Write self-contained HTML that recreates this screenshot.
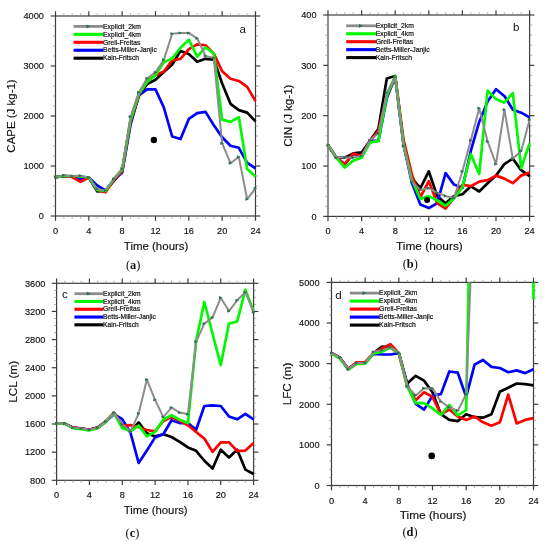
<!DOCTYPE html>
<html><head><meta charset="utf-8"><title>Figure</title><style>
html,body{margin:0;padding:0;background:#fff;}
body{width:550px;height:542px;overflow:hidden;}
svg{display:block;will-change:transform;}
text{font-family:"Liberation Sans",sans-serif;fill:#111;}
.tl{font-size:9.2px;stroke:#111;stroke-width:0.15px;}
.at{font-size:11.25px;stroke:#111;stroke-width:0.15px;}
.lg{font-size:7.9px;stroke:#111;stroke-width:0.22px;}
.lt{fill:#111;}
.cap{font-family:"Liberation Serif",serif;font-size:12.4px;}
</style></head><body>
<svg width="550" height="542" viewBox="0 0 550 542">
<rect width="550" height="542" fill="#fff"/>
<defs><clipPath id="clipa"><rect x="53.9" y="16" width="203.2" height="200"/></clipPath><clipPath id="clipb"><rect x="326.4" y="15" width="204.8" height="201.4"/></clipPath><clipPath id="clipc"><rect x="55" y="283.3" width="200.2" height="197"/></clipPath><clipPath id="clipd"><rect x="329.9" y="282.4" width="205.2" height="203.1"/></clipPath></defs>
<rect x="55.5" y="16" width="200" height="200" fill="none" stroke="#3c3c3c" stroke-width="1.2"/>
<line x1="55.5" y1="216" x2="55.5" y2="220.8" stroke="#3c3c3c" stroke-width="1.2"/>
<line x1="55.5" y1="16" x2="55.5" y2="11.2" stroke="#3c3c3c" stroke-width="1.2"/>
<line x1="63.83" y1="216" x2="63.83" y2="218.6" stroke="#8a8a8a" stroke-width="0.7"/>
<line x1="63.83" y1="16" x2="63.83" y2="13.4" stroke="#8a8a8a" stroke-width="0.7"/>
<line x1="72.17" y1="216" x2="72.17" y2="218.6" stroke="#8a8a8a" stroke-width="0.7"/>
<line x1="72.17" y1="16" x2="72.17" y2="13.4" stroke="#8a8a8a" stroke-width="0.7"/>
<line x1="80.5" y1="216" x2="80.5" y2="218.6" stroke="#8a8a8a" stroke-width="0.7"/>
<line x1="80.5" y1="16" x2="80.5" y2="13.4" stroke="#8a8a8a" stroke-width="0.7"/>
<line x1="88.83" y1="216" x2="88.83" y2="220.8" stroke="#3c3c3c" stroke-width="1.2"/>
<line x1="88.83" y1="16" x2="88.83" y2="11.2" stroke="#3c3c3c" stroke-width="1.2"/>
<line x1="97.17" y1="216" x2="97.17" y2="218.6" stroke="#8a8a8a" stroke-width="0.7"/>
<line x1="97.17" y1="16" x2="97.17" y2="13.4" stroke="#8a8a8a" stroke-width="0.7"/>
<line x1="105.5" y1="216" x2="105.5" y2="218.6" stroke="#8a8a8a" stroke-width="0.7"/>
<line x1="105.5" y1="16" x2="105.5" y2="13.4" stroke="#8a8a8a" stroke-width="0.7"/>
<line x1="113.83" y1="216" x2="113.83" y2="218.6" stroke="#8a8a8a" stroke-width="0.7"/>
<line x1="113.83" y1="16" x2="113.83" y2="13.4" stroke="#8a8a8a" stroke-width="0.7"/>
<line x1="122.17" y1="216" x2="122.17" y2="220.8" stroke="#3c3c3c" stroke-width="1.2"/>
<line x1="122.17" y1="16" x2="122.17" y2="11.2" stroke="#3c3c3c" stroke-width="1.2"/>
<line x1="130.5" y1="216" x2="130.5" y2="218.6" stroke="#8a8a8a" stroke-width="0.7"/>
<line x1="130.5" y1="16" x2="130.5" y2="13.4" stroke="#8a8a8a" stroke-width="0.7"/>
<line x1="138.83" y1="216" x2="138.83" y2="218.6" stroke="#8a8a8a" stroke-width="0.7"/>
<line x1="138.83" y1="16" x2="138.83" y2="13.4" stroke="#8a8a8a" stroke-width="0.7"/>
<line x1="147.17" y1="216" x2="147.17" y2="218.6" stroke="#8a8a8a" stroke-width="0.7"/>
<line x1="147.17" y1="16" x2="147.17" y2="13.4" stroke="#8a8a8a" stroke-width="0.7"/>
<line x1="155.5" y1="216" x2="155.5" y2="220.8" stroke="#3c3c3c" stroke-width="1.2"/>
<line x1="155.5" y1="16" x2="155.5" y2="11.2" stroke="#3c3c3c" stroke-width="1.2"/>
<line x1="163.83" y1="216" x2="163.83" y2="218.6" stroke="#8a8a8a" stroke-width="0.7"/>
<line x1="163.83" y1="16" x2="163.83" y2="13.4" stroke="#8a8a8a" stroke-width="0.7"/>
<line x1="172.17" y1="216" x2="172.17" y2="218.6" stroke="#8a8a8a" stroke-width="0.7"/>
<line x1="172.17" y1="16" x2="172.17" y2="13.4" stroke="#8a8a8a" stroke-width="0.7"/>
<line x1="180.5" y1="216" x2="180.5" y2="218.6" stroke="#8a8a8a" stroke-width="0.7"/>
<line x1="180.5" y1="16" x2="180.5" y2="13.4" stroke="#8a8a8a" stroke-width="0.7"/>
<line x1="188.83" y1="216" x2="188.83" y2="220.8" stroke="#3c3c3c" stroke-width="1.2"/>
<line x1="188.83" y1="16" x2="188.83" y2="11.2" stroke="#3c3c3c" stroke-width="1.2"/>
<line x1="197.17" y1="216" x2="197.17" y2="218.6" stroke="#8a8a8a" stroke-width="0.7"/>
<line x1="197.17" y1="16" x2="197.17" y2="13.4" stroke="#8a8a8a" stroke-width="0.7"/>
<line x1="205.5" y1="216" x2="205.5" y2="218.6" stroke="#8a8a8a" stroke-width="0.7"/>
<line x1="205.5" y1="16" x2="205.5" y2="13.4" stroke="#8a8a8a" stroke-width="0.7"/>
<line x1="213.83" y1="216" x2="213.83" y2="218.6" stroke="#8a8a8a" stroke-width="0.7"/>
<line x1="213.83" y1="16" x2="213.83" y2="13.4" stroke="#8a8a8a" stroke-width="0.7"/>
<line x1="222.17" y1="216" x2="222.17" y2="220.8" stroke="#3c3c3c" stroke-width="1.2"/>
<line x1="222.17" y1="16" x2="222.17" y2="11.2" stroke="#3c3c3c" stroke-width="1.2"/>
<line x1="230.5" y1="216" x2="230.5" y2="218.6" stroke="#8a8a8a" stroke-width="0.7"/>
<line x1="230.5" y1="16" x2="230.5" y2="13.4" stroke="#8a8a8a" stroke-width="0.7"/>
<line x1="238.83" y1="216" x2="238.83" y2="218.6" stroke="#8a8a8a" stroke-width="0.7"/>
<line x1="238.83" y1="16" x2="238.83" y2="13.4" stroke="#8a8a8a" stroke-width="0.7"/>
<line x1="247.17" y1="216" x2="247.17" y2="218.6" stroke="#8a8a8a" stroke-width="0.7"/>
<line x1="247.17" y1="16" x2="247.17" y2="13.4" stroke="#8a8a8a" stroke-width="0.7"/>
<line x1="255.5" y1="216" x2="255.5" y2="220.8" stroke="#3c3c3c" stroke-width="1.2"/>
<line x1="255.5" y1="16" x2="255.5" y2="11.2" stroke="#3c3c3c" stroke-width="1.2"/>
<line x1="55.5" y1="216" x2="50.7" y2="216" stroke="#3c3c3c" stroke-width="1.2"/>
<line x1="255.5" y1="216" x2="260.3" y2="216" stroke="#3c3c3c" stroke-width="1.2"/>
<line x1="55.5" y1="206" x2="52.9" y2="206" stroke="#8a8a8a" stroke-width="0.7"/>
<line x1="255.5" y1="206" x2="258.1" y2="206" stroke="#8a8a8a" stroke-width="0.7"/>
<line x1="55.5" y1="196" x2="52.9" y2="196" stroke="#8a8a8a" stroke-width="0.7"/>
<line x1="255.5" y1="196" x2="258.1" y2="196" stroke="#8a8a8a" stroke-width="0.7"/>
<line x1="55.5" y1="186" x2="52.9" y2="186" stroke="#8a8a8a" stroke-width="0.7"/>
<line x1="255.5" y1="186" x2="258.1" y2="186" stroke="#8a8a8a" stroke-width="0.7"/>
<line x1="55.5" y1="176" x2="52.9" y2="176" stroke="#8a8a8a" stroke-width="0.7"/>
<line x1="255.5" y1="176" x2="258.1" y2="176" stroke="#8a8a8a" stroke-width="0.7"/>
<line x1="55.5" y1="166" x2="50.7" y2="166" stroke="#3c3c3c" stroke-width="1.2"/>
<line x1="255.5" y1="166" x2="260.3" y2="166" stroke="#3c3c3c" stroke-width="1.2"/>
<line x1="55.5" y1="156" x2="52.9" y2="156" stroke="#8a8a8a" stroke-width="0.7"/>
<line x1="255.5" y1="156" x2="258.1" y2="156" stroke="#8a8a8a" stroke-width="0.7"/>
<line x1="55.5" y1="146" x2="52.9" y2="146" stroke="#8a8a8a" stroke-width="0.7"/>
<line x1="255.5" y1="146" x2="258.1" y2="146" stroke="#8a8a8a" stroke-width="0.7"/>
<line x1="55.5" y1="136" x2="52.9" y2="136" stroke="#8a8a8a" stroke-width="0.7"/>
<line x1="255.5" y1="136" x2="258.1" y2="136" stroke="#8a8a8a" stroke-width="0.7"/>
<line x1="55.5" y1="126" x2="52.9" y2="126" stroke="#8a8a8a" stroke-width="0.7"/>
<line x1="255.5" y1="126" x2="258.1" y2="126" stroke="#8a8a8a" stroke-width="0.7"/>
<line x1="55.5" y1="116" x2="50.7" y2="116" stroke="#3c3c3c" stroke-width="1.2"/>
<line x1="255.5" y1="116" x2="260.3" y2="116" stroke="#3c3c3c" stroke-width="1.2"/>
<line x1="55.5" y1="106" x2="52.9" y2="106" stroke="#8a8a8a" stroke-width="0.7"/>
<line x1="255.5" y1="106" x2="258.1" y2="106" stroke="#8a8a8a" stroke-width="0.7"/>
<line x1="55.5" y1="96" x2="52.9" y2="96" stroke="#8a8a8a" stroke-width="0.7"/>
<line x1="255.5" y1="96" x2="258.1" y2="96" stroke="#8a8a8a" stroke-width="0.7"/>
<line x1="55.5" y1="86" x2="52.9" y2="86" stroke="#8a8a8a" stroke-width="0.7"/>
<line x1="255.5" y1="86" x2="258.1" y2="86" stroke="#8a8a8a" stroke-width="0.7"/>
<line x1="55.5" y1="76" x2="52.9" y2="76" stroke="#8a8a8a" stroke-width="0.7"/>
<line x1="255.5" y1="76" x2="258.1" y2="76" stroke="#8a8a8a" stroke-width="0.7"/>
<line x1="55.5" y1="66" x2="50.7" y2="66" stroke="#3c3c3c" stroke-width="1.2"/>
<line x1="255.5" y1="66" x2="260.3" y2="66" stroke="#3c3c3c" stroke-width="1.2"/>
<line x1="55.5" y1="56" x2="52.9" y2="56" stroke="#8a8a8a" stroke-width="0.7"/>
<line x1="255.5" y1="56" x2="258.1" y2="56" stroke="#8a8a8a" stroke-width="0.7"/>
<line x1="55.5" y1="46" x2="52.9" y2="46" stroke="#8a8a8a" stroke-width="0.7"/>
<line x1="255.5" y1="46" x2="258.1" y2="46" stroke="#8a8a8a" stroke-width="0.7"/>
<line x1="55.5" y1="36" x2="52.9" y2="36" stroke="#8a8a8a" stroke-width="0.7"/>
<line x1="255.5" y1="36" x2="258.1" y2="36" stroke="#8a8a8a" stroke-width="0.7"/>
<line x1="55.5" y1="26" x2="52.9" y2="26" stroke="#8a8a8a" stroke-width="0.7"/>
<line x1="255.5" y1="26" x2="258.1" y2="26" stroke="#8a8a8a" stroke-width="0.7"/>
<line x1="55.5" y1="16" x2="50.7" y2="16" stroke="#3c3c3c" stroke-width="1.2"/>
<line x1="255.5" y1="16" x2="260.3" y2="16" stroke="#3c3c3c" stroke-width="1.2"/>
<g clip-path="url(#clipa)" fill="none" stroke-linejoin="round">
<polyline points="55.5,177.2 63.83,176 72.17,176.5 80.5,177 88.83,177.5 97.17,191.3 105.5,191 113.83,181 122.17,171 130.5,121.5 138.83,96 147.17,84 155.5,79.8 163.83,72 172.17,64.5 180.5,51 188.83,54.1 197.17,61.75 205.5,58.8 213.83,59.55 222.17,83.5 230.5,103.8 238.83,110.1 247.17,112.6 255.5,121.4" stroke="#000000" stroke-width="2.7"/>
<polyline points="55.5,177.2 63.83,176 72.17,176.5 80.5,178.9 88.83,177.5 97.17,185.5 105.5,190.5 113.83,180 122.17,172.4 130.5,125 138.83,95.5 147.17,89.4 155.5,89.4 163.83,107.5 172.17,136.5 180.5,139 188.83,118.9 197.17,113.1 205.5,111.9 213.83,125.2 222.17,137.2 230.5,145.7 238.83,147.8 247.17,162.8 255.5,168.3" stroke="#0000ff" stroke-width="2.7"/>
<polyline points="55.5,177.2 63.83,176 72.17,177 80.5,181.8 88.83,177.5 97.17,190 105.5,192.3 113.83,180 122.17,171 130.5,121.5 138.83,95 147.17,81 155.5,75.2 163.83,71.5 172.17,60.4 180.5,58.8 188.83,49.2 197.17,44.35 205.5,45.25 213.83,53.65 222.17,71.35 230.5,78.75 238.83,80.95 247.17,86.85 255.5,101" stroke="#ff0000" stroke-width="2.7"/>
<polyline points="55.5,177.2 63.83,176 72.17,176 80.5,176.5 88.83,177.5 97.17,190 105.5,191 113.83,178.9 122.17,169.5 130.5,120 138.83,94 147.17,82 155.5,75 163.83,62.3 172.17,58.6 180.5,47.75 188.83,39.6 197.17,56.6 205.5,47.3 213.83,53.65 222.17,119.6 230.5,121.9 238.83,117.1 247.17,169.1 255.5,176.6" stroke="#00f800" stroke-width="2.7"/>
<polyline points="55.5,177.2 63.83,175.3 72.17,176 80.5,175.7 88.83,177.5 97.17,189 105.5,190.5 113.83,179 122.17,168.7 130.5,116.7 138.83,92.4 147.17,78.3 155.5,72.4 163.83,59.9 172.17,33.7 180.5,33 188.83,33.1 197.17,38.3 205.5,55.9 213.83,58.05 222.17,143.3 230.5,163.2 238.83,156.9 247.17,199.2 255.5,188.4" stroke="#8c8c8c" stroke-width="2.0"/>
<path d="M53.7 175.58L57.3 177.2L53.7 178.82Z" fill="#2d7050"/>
<path d="M62.03 173.68L65.63 175.3L62.03 176.92Z" fill="#2d7050"/>
<path d="M70.37 174.38L73.97 176L70.37 177.62Z" fill="#2d7050"/>
<path d="M78.7 174.08L82.3 175.7L78.7 177.32Z" fill="#2d7050"/>
<path d="M87.03 175.88L90.63 177.5L87.03 179.12Z" fill="#2d7050"/>
<path d="M95.37 187.38L98.97 189L95.37 190.62Z" fill="#2d7050"/>
<path d="M103.7 188.88L107.3 190.5L103.7 192.12Z" fill="#2d7050"/>
<path d="M112.03 177.38L115.63 179L112.03 180.62Z" fill="#2d7050"/>
<path d="M120.37 167.08L123.97 168.7L120.37 170.32Z" fill="#2d7050"/>
<path d="M128.7 115.08L132.3 116.7L128.7 118.32Z" fill="#2d7050"/>
<path d="M137.03 90.78L140.63 92.4L137.03 94.02Z" fill="#2d7050"/>
<path d="M145.37 76.68L148.97 78.3L145.37 79.92Z" fill="#2d7050"/>
<path d="M153.7 70.78L157.3 72.4L153.7 74.02Z" fill="#2d7050"/>
<path d="M162.03 58.28L165.63 59.9L162.03 61.52Z" fill="#2d7050"/>
<path d="M170.37 32.08L173.97 33.7L170.37 35.32Z" fill="#2d7050"/>
<path d="M178.7 31.38L182.3 33L178.7 34.62Z" fill="#2d7050"/>
<path d="M187.03 31.48L190.63 33.1L187.03 34.72Z" fill="#2d7050"/>
<path d="M195.37 36.68L198.97 38.3L195.37 39.92Z" fill="#2d7050"/>
<path d="M203.7 54.28L207.3 55.9L203.7 57.52Z" fill="#2d7050"/>
<path d="M212.03 56.43L215.63 58.05L212.03 59.67Z" fill="#2d7050"/>
<path d="M220.37 141.68L223.97 143.3L220.37 144.92Z" fill="#2d7050"/>
<path d="M228.7 161.58L232.3 163.2L228.7 164.82Z" fill="#2d7050"/>
<path d="M237.03 155.28L240.63 156.9L237.03 158.52Z" fill="#2d7050"/>
<path d="M245.37 197.58L248.97 199.2L245.37 200.82Z" fill="#2d7050"/>
<path d="M253.7 186.78L257.3 188.4L253.7 190.02Z" fill="#2d7050"/>
</g>
<circle cx="153.9" cy="140" r="3.2" fill="#000"/>
<text x="55.5" y="234" class="tl" text-anchor="middle">0</text>
<text x="88.83" y="234" class="tl" text-anchor="middle">4</text>
<text x="122.17" y="234" class="tl" text-anchor="middle">8</text>
<text x="155.5" y="234" class="tl" text-anchor="middle">12</text>
<text x="188.83" y="234" class="tl" text-anchor="middle">16</text>
<text x="222.17" y="234" class="tl" text-anchor="middle">20</text>
<text x="255.5" y="234" class="tl" text-anchor="middle">24</text>
<text x="43.9" y="219.3" class="tl" text-anchor="end">0</text>
<text x="43.9" y="169.3" class="tl" text-anchor="end">1000</text>
<text x="43.9" y="119.3" class="tl" text-anchor="end">2000</text>
<text x="43.9" y="69.3" class="tl" text-anchor="end">3000</text>
<text x="43.9" y="19.3" class="tl" text-anchor="end">4000</text>
<text x="156.1" y="249.5" class="at" text-anchor="middle" textLength="64.6" lengthAdjust="spacingAndGlyphs">Time (hours)</text>
<text transform="translate(14.7,116) rotate(-90)" class="at" text-anchor="middle" textLength="73.3" lengthAdjust="spacingAndGlyphs">CAPE (J kg-1)</text>
<text x="239.5" y="33.4" font-size="11.5" font-weight="normal" class="lt">a</text>
<line x1="73.6" y1="26.4" x2="103.3" y2="26.4" stroke="#8c8c8c" stroke-width="2.8"/>
<path d="M86.35 24.51L90.55 26.4L86.35 28.29Z" fill="#2d7050"/>
<text x="103.1" y="28.6" class="lg" textLength="37.9" lengthAdjust="spacingAndGlyphs">Explicit_2km</text>
<line x1="73.6" y1="34.35" x2="103.3" y2="34.35" stroke="#00f800" stroke-width="3.1"/>
<text x="103.1" y="36.55" class="lg" textLength="37.9" lengthAdjust="spacingAndGlyphs">Explicit_4km</text>
<line x1="73.6" y1="42.3" x2="103.3" y2="42.3" stroke="#ff0000" stroke-width="3.1"/>
<text x="103.1" y="44.5" class="lg" textLength="37.2" lengthAdjust="spacingAndGlyphs">Grell-Freitas</text>
<line x1="73.6" y1="50.25" x2="103.3" y2="50.25" stroke="#0000ff" stroke-width="3.1"/>
<text x="103.1" y="52.45" class="lg" textLength="53.7" lengthAdjust="spacingAndGlyphs">Betts-Miller-Janjic</text>
<line x1="73.6" y1="58.2" x2="103.3" y2="58.2" stroke="#000000" stroke-width="3.1"/>
<text x="103.1" y="60.4" class="lg" textLength="35.9" lengthAdjust="spacingAndGlyphs">Kain-Fritsch</text>
<text x="125.9" y="269.4" class="cap">(<tspan font-weight="bold">a</tspan>)</text>
<rect x="328" y="15" width="201.6" height="201.4" fill="none" stroke="#3c3c3c" stroke-width="1.2"/>
<line x1="328" y1="15.6" x2="328" y2="215.8" stroke="#8e8e8e" stroke-width="2.1"/>
<line x1="328" y1="216.4" x2="328" y2="221.2" stroke="#3c3c3c" stroke-width="1.2"/>
<line x1="328" y1="15" x2="328" y2="10.2" stroke="#3c3c3c" stroke-width="1.2"/>
<line x1="336.4" y1="216.4" x2="336.4" y2="219" stroke="#8a8a8a" stroke-width="0.7"/>
<line x1="336.4" y1="15" x2="336.4" y2="12.4" stroke="#8a8a8a" stroke-width="0.7"/>
<line x1="344.8" y1="216.4" x2="344.8" y2="219" stroke="#8a8a8a" stroke-width="0.7"/>
<line x1="344.8" y1="15" x2="344.8" y2="12.4" stroke="#8a8a8a" stroke-width="0.7"/>
<line x1="353.2" y1="216.4" x2="353.2" y2="219" stroke="#8a8a8a" stroke-width="0.7"/>
<line x1="353.2" y1="15" x2="353.2" y2="12.4" stroke="#8a8a8a" stroke-width="0.7"/>
<line x1="361.6" y1="216.4" x2="361.6" y2="221.2" stroke="#3c3c3c" stroke-width="1.2"/>
<line x1="361.6" y1="15" x2="361.6" y2="10.2" stroke="#3c3c3c" stroke-width="1.2"/>
<line x1="370" y1="216.4" x2="370" y2="219" stroke="#8a8a8a" stroke-width="0.7"/>
<line x1="370" y1="15" x2="370" y2="12.4" stroke="#8a8a8a" stroke-width="0.7"/>
<line x1="378.4" y1="216.4" x2="378.4" y2="219" stroke="#8a8a8a" stroke-width="0.7"/>
<line x1="378.4" y1="15" x2="378.4" y2="12.4" stroke="#8a8a8a" stroke-width="0.7"/>
<line x1="386.8" y1="216.4" x2="386.8" y2="219" stroke="#8a8a8a" stroke-width="0.7"/>
<line x1="386.8" y1="15" x2="386.8" y2="12.4" stroke="#8a8a8a" stroke-width="0.7"/>
<line x1="395.2" y1="216.4" x2="395.2" y2="221.2" stroke="#3c3c3c" stroke-width="1.2"/>
<line x1="395.2" y1="15" x2="395.2" y2="10.2" stroke="#3c3c3c" stroke-width="1.2"/>
<line x1="403.6" y1="216.4" x2="403.6" y2="219" stroke="#8a8a8a" stroke-width="0.7"/>
<line x1="403.6" y1="15" x2="403.6" y2="12.4" stroke="#8a8a8a" stroke-width="0.7"/>
<line x1="412" y1="216.4" x2="412" y2="219" stroke="#8a8a8a" stroke-width="0.7"/>
<line x1="412" y1="15" x2="412" y2="12.4" stroke="#8a8a8a" stroke-width="0.7"/>
<line x1="420.4" y1="216.4" x2="420.4" y2="219" stroke="#8a8a8a" stroke-width="0.7"/>
<line x1="420.4" y1="15" x2="420.4" y2="12.4" stroke="#8a8a8a" stroke-width="0.7"/>
<line x1="428.8" y1="216.4" x2="428.8" y2="221.2" stroke="#3c3c3c" stroke-width="1.2"/>
<line x1="428.8" y1="15" x2="428.8" y2="10.2" stroke="#3c3c3c" stroke-width="1.2"/>
<line x1="437.2" y1="216.4" x2="437.2" y2="219" stroke="#8a8a8a" stroke-width="0.7"/>
<line x1="437.2" y1="15" x2="437.2" y2="12.4" stroke="#8a8a8a" stroke-width="0.7"/>
<line x1="445.6" y1="216.4" x2="445.6" y2="219" stroke="#8a8a8a" stroke-width="0.7"/>
<line x1="445.6" y1="15" x2="445.6" y2="12.4" stroke="#8a8a8a" stroke-width="0.7"/>
<line x1="454" y1="216.4" x2="454" y2="219" stroke="#8a8a8a" stroke-width="0.7"/>
<line x1="454" y1="15" x2="454" y2="12.4" stroke="#8a8a8a" stroke-width="0.7"/>
<line x1="462.4" y1="216.4" x2="462.4" y2="221.2" stroke="#3c3c3c" stroke-width="1.2"/>
<line x1="462.4" y1="15" x2="462.4" y2="10.2" stroke="#3c3c3c" stroke-width="1.2"/>
<line x1="470.8" y1="216.4" x2="470.8" y2="219" stroke="#8a8a8a" stroke-width="0.7"/>
<line x1="470.8" y1="15" x2="470.8" y2="12.4" stroke="#8a8a8a" stroke-width="0.7"/>
<line x1="479.2" y1="216.4" x2="479.2" y2="219" stroke="#8a8a8a" stroke-width="0.7"/>
<line x1="479.2" y1="15" x2="479.2" y2="12.4" stroke="#8a8a8a" stroke-width="0.7"/>
<line x1="487.6" y1="216.4" x2="487.6" y2="219" stroke="#8a8a8a" stroke-width="0.7"/>
<line x1="487.6" y1="15" x2="487.6" y2="12.4" stroke="#8a8a8a" stroke-width="0.7"/>
<line x1="496" y1="216.4" x2="496" y2="221.2" stroke="#3c3c3c" stroke-width="1.2"/>
<line x1="496" y1="15" x2="496" y2="10.2" stroke="#3c3c3c" stroke-width="1.2"/>
<line x1="504.4" y1="216.4" x2="504.4" y2="219" stroke="#8a8a8a" stroke-width="0.7"/>
<line x1="504.4" y1="15" x2="504.4" y2="12.4" stroke="#8a8a8a" stroke-width="0.7"/>
<line x1="512.8" y1="216.4" x2="512.8" y2="219" stroke="#8a8a8a" stroke-width="0.7"/>
<line x1="512.8" y1="15" x2="512.8" y2="12.4" stroke="#8a8a8a" stroke-width="0.7"/>
<line x1="521.2" y1="216.4" x2="521.2" y2="219" stroke="#8a8a8a" stroke-width="0.7"/>
<line x1="521.2" y1="15" x2="521.2" y2="12.4" stroke="#8a8a8a" stroke-width="0.7"/>
<line x1="529.6" y1="216.4" x2="529.6" y2="221.2" stroke="#3c3c3c" stroke-width="1.2"/>
<line x1="529.6" y1="15" x2="529.6" y2="10.2" stroke="#3c3c3c" stroke-width="1.2"/>
<line x1="328" y1="216.4" x2="323.2" y2="216.4" stroke="#3c3c3c" stroke-width="1.2"/>
<line x1="529.6" y1="216.4" x2="534.4" y2="216.4" stroke="#3c3c3c" stroke-width="1.2"/>
<line x1="328" y1="206.33" x2="325.4" y2="206.33" stroke="#8a8a8a" stroke-width="0.7"/>
<line x1="529.6" y1="206.33" x2="532.2" y2="206.33" stroke="#8a8a8a" stroke-width="0.7"/>
<line x1="328" y1="196.26" x2="325.4" y2="196.26" stroke="#8a8a8a" stroke-width="0.7"/>
<line x1="529.6" y1="196.26" x2="532.2" y2="196.26" stroke="#8a8a8a" stroke-width="0.7"/>
<line x1="328" y1="186.19" x2="325.4" y2="186.19" stroke="#8a8a8a" stroke-width="0.7"/>
<line x1="529.6" y1="186.19" x2="532.2" y2="186.19" stroke="#8a8a8a" stroke-width="0.7"/>
<line x1="328" y1="176.12" x2="325.4" y2="176.12" stroke="#8a8a8a" stroke-width="0.7"/>
<line x1="529.6" y1="176.12" x2="532.2" y2="176.12" stroke="#8a8a8a" stroke-width="0.7"/>
<line x1="328" y1="166.05" x2="323.2" y2="166.05" stroke="#3c3c3c" stroke-width="1.2"/>
<line x1="529.6" y1="166.05" x2="534.4" y2="166.05" stroke="#3c3c3c" stroke-width="1.2"/>
<line x1="328" y1="155.98" x2="325.4" y2="155.98" stroke="#8a8a8a" stroke-width="0.7"/>
<line x1="529.6" y1="155.98" x2="532.2" y2="155.98" stroke="#8a8a8a" stroke-width="0.7"/>
<line x1="328" y1="145.91" x2="325.4" y2="145.91" stroke="#8a8a8a" stroke-width="0.7"/>
<line x1="529.6" y1="145.91" x2="532.2" y2="145.91" stroke="#8a8a8a" stroke-width="0.7"/>
<line x1="328" y1="135.84" x2="325.4" y2="135.84" stroke="#8a8a8a" stroke-width="0.7"/>
<line x1="529.6" y1="135.84" x2="532.2" y2="135.84" stroke="#8a8a8a" stroke-width="0.7"/>
<line x1="328" y1="125.77" x2="325.4" y2="125.77" stroke="#8a8a8a" stroke-width="0.7"/>
<line x1="529.6" y1="125.77" x2="532.2" y2="125.77" stroke="#8a8a8a" stroke-width="0.7"/>
<line x1="328" y1="115.7" x2="323.2" y2="115.7" stroke="#3c3c3c" stroke-width="1.2"/>
<line x1="529.6" y1="115.7" x2="534.4" y2="115.7" stroke="#3c3c3c" stroke-width="1.2"/>
<line x1="328" y1="105.63" x2="325.4" y2="105.63" stroke="#8a8a8a" stroke-width="0.7"/>
<line x1="529.6" y1="105.63" x2="532.2" y2="105.63" stroke="#8a8a8a" stroke-width="0.7"/>
<line x1="328" y1="95.56" x2="325.4" y2="95.56" stroke="#8a8a8a" stroke-width="0.7"/>
<line x1="529.6" y1="95.56" x2="532.2" y2="95.56" stroke="#8a8a8a" stroke-width="0.7"/>
<line x1="328" y1="85.49" x2="325.4" y2="85.49" stroke="#8a8a8a" stroke-width="0.7"/>
<line x1="529.6" y1="85.49" x2="532.2" y2="85.49" stroke="#8a8a8a" stroke-width="0.7"/>
<line x1="328" y1="75.42" x2="325.4" y2="75.42" stroke="#8a8a8a" stroke-width="0.7"/>
<line x1="529.6" y1="75.42" x2="532.2" y2="75.42" stroke="#8a8a8a" stroke-width="0.7"/>
<line x1="328" y1="65.35" x2="323.2" y2="65.35" stroke="#3c3c3c" stroke-width="1.2"/>
<line x1="529.6" y1="65.35" x2="534.4" y2="65.35" stroke="#3c3c3c" stroke-width="1.2"/>
<line x1="328" y1="55.28" x2="325.4" y2="55.28" stroke="#8a8a8a" stroke-width="0.7"/>
<line x1="529.6" y1="55.28" x2="532.2" y2="55.28" stroke="#8a8a8a" stroke-width="0.7"/>
<line x1="328" y1="45.21" x2="325.4" y2="45.21" stroke="#8a8a8a" stroke-width="0.7"/>
<line x1="529.6" y1="45.21" x2="532.2" y2="45.21" stroke="#8a8a8a" stroke-width="0.7"/>
<line x1="328" y1="35.14" x2="325.4" y2="35.14" stroke="#8a8a8a" stroke-width="0.7"/>
<line x1="529.6" y1="35.14" x2="532.2" y2="35.14" stroke="#8a8a8a" stroke-width="0.7"/>
<line x1="328" y1="25.07" x2="325.4" y2="25.07" stroke="#8a8a8a" stroke-width="0.7"/>
<line x1="529.6" y1="25.07" x2="532.2" y2="25.07" stroke="#8a8a8a" stroke-width="0.7"/>
<line x1="328" y1="15" x2="323.2" y2="15" stroke="#3c3c3c" stroke-width="1.2"/>
<line x1="529.6" y1="15" x2="534.4" y2="15" stroke="#3c3c3c" stroke-width="1.2"/>
<g clip-path="url(#clipb)" fill="none" stroke-linejoin="round">
<polyline points="328,145 336.4,157.79 344.8,157.59 353.2,153.46 361.6,152.46 370,140.88 378.4,128.89 386.8,78.44 395.2,75.92 403.6,144.9 412,178.39 420.4,188.1 428.8,171.29 437.2,196.11 445.6,203.21 454,196.11 462.4,194.3 470.8,186.29 479.2,191.48 487.6,183.17 496,175.62 504.4,164.04 512.8,158.7 521.2,170.08 529.6,176.12" stroke="#000000" stroke-width="2.7"/>
<polyline points="328,145 336.4,157.79 344.8,164.19 353.2,153.97 361.6,155.98 370,140.88 378.4,140.88 386.8,98.08 395.2,76.93 403.6,144.9 412,183.17 420.4,204.62 428.8,208.09 437.2,203.21 445.6,173.1 454,184.58 462.4,188.1 470.8,150.94 479.2,121.99 487.6,101.6 496,89.22 504.4,96.06 512.8,109.66 521.2,112.68 529.6,117.41" stroke="#0000ff" stroke-width="2.7"/>
<polyline points="328,145 336.4,157.79 344.8,164.19 353.2,153.46 361.6,155.98 370,140.88 378.4,130.81 386.8,95.56 395.2,76.93 403.6,139.87 412,174.91 420.4,197.02 428.8,181.1 437.2,203.21 445.6,208.5 454,197.92 462.4,184.78 470.8,186.19 479.2,181.66 487.6,180.15 496,175.62 504.4,178.64 512.8,183.17 521.2,175.62 529.6,172.6" stroke="#ff0000" stroke-width="2.7"/>
<polyline points="328,145 336.4,157.79 344.8,167.56 353.2,160.61 361.6,157.79 370,142.69 378.4,140.88 386.8,95.56 395.2,75.92 403.6,144.9 412,180.2 420.4,198.98 428.8,196.11 437.2,200.49 445.6,205.78 454,198.37 462.4,187.3 470.8,154.12 479.2,174.01 487.6,90.53 496,99.08 504.4,102.71 512.8,93.04 521.2,168.06 529.6,143.39" stroke="#00f800" stroke-width="2.7"/>
<polyline points="328,145 336.4,157.79 344.8,157.59 353.2,157.59 361.6,156.08 370,140.37 378.4,133.32 386.8,92.54 395.2,76.93 403.6,145.91 412,181.91 420.4,189.92 428.8,188.1 437.2,192.58 445.6,196.11 454,197.92 462.4,171.29 470.8,140.37 479.2,108.15 487.6,141.38 496,164.04 504.4,109.66 512.8,158.7 521.2,150.94 529.6,119.73" stroke="#8c8c8c" stroke-width="2.0"/>
<path d="M326.2 143.38L329.8 145L326.2 146.62Z" fill="#2d7050"/>
<path d="M334.6 156.17L338.2 157.79L334.6 159.41Z" fill="#2d7050"/>
<path d="M343 155.97L346.6 157.59L343 159.21Z" fill="#2d7050"/>
<path d="M351.4 155.97L355 157.59L351.4 159.21Z" fill="#2d7050"/>
<path d="M359.8 154.46L363.4 156.08L359.8 157.7Z" fill="#2d7050"/>
<path d="M368.2 138.75L371.8 140.37L368.2 141.99Z" fill="#2d7050"/>
<path d="M376.6 131.7L380.2 133.32L376.6 134.94Z" fill="#2d7050"/>
<path d="M385 90.92L388.6 92.54L385 94.16Z" fill="#2d7050"/>
<path d="M393.4 75.31L397 76.93L393.4 78.55Z" fill="#2d7050"/>
<path d="M401.8 144.29L405.4 145.91L401.8 147.53Z" fill="#2d7050"/>
<path d="M410.2 180.29L413.8 181.91L410.2 183.53Z" fill="#2d7050"/>
<path d="M418.6 188.3L422.2 189.92L418.6 191.54Z" fill="#2d7050"/>
<path d="M427 186.48L430.6 188.1L427 189.72Z" fill="#2d7050"/>
<path d="M435.4 190.96L439 192.58L435.4 194.2Z" fill="#2d7050"/>
<path d="M443.8 194.49L447.4 196.11L443.8 197.73Z" fill="#2d7050"/>
<path d="M452.2 196.3L455.8 197.92L452.2 199.54Z" fill="#2d7050"/>
<path d="M460.6 169.67L464.2 171.29L460.6 172.91Z" fill="#2d7050"/>
<path d="M469 138.75L472.6 140.37L469 141.99Z" fill="#2d7050"/>
<path d="M477.4 106.53L481 108.15L477.4 109.77Z" fill="#2d7050"/>
<path d="M485.8 139.76L489.4 141.38L485.8 143Z" fill="#2d7050"/>
<path d="M494.2 162.42L497.8 164.04L494.2 165.66Z" fill="#2d7050"/>
<path d="M502.6 108.04L506.2 109.66L502.6 111.28Z" fill="#2d7050"/>
<path d="M511 157.08L514.6 158.7L511 160.32Z" fill="#2d7050"/>
<path d="M519.4 149.32L523 150.94L519.4 152.56Z" fill="#2d7050"/>
<path d="M527.8 118.11L531.4 119.73L527.8 121.35Z" fill="#2d7050"/>
</g>
<circle cx="427.1" cy="199.9" r="3" fill="#000"/>
<text x="328" y="234.4" class="tl" text-anchor="middle">0</text>
<text x="361.6" y="234.4" class="tl" text-anchor="middle">4</text>
<text x="395.2" y="234.4" class="tl" text-anchor="middle">8</text>
<text x="428.8" y="234.4" class="tl" text-anchor="middle">12</text>
<text x="462.4" y="234.4" class="tl" text-anchor="middle">16</text>
<text x="496" y="234.4" class="tl" text-anchor="middle">20</text>
<text x="529.6" y="234.4" class="tl" text-anchor="middle">24</text>
<text x="316.5" y="219.7" class="tl" text-anchor="end">0</text>
<text x="316.5" y="169.35" class="tl" text-anchor="end">100</text>
<text x="316.5" y="119" class="tl" text-anchor="end">200</text>
<text x="316.5" y="68.65" class="tl" text-anchor="end">300</text>
<text x="316.5" y="18.3" class="tl" text-anchor="end">400</text>
<text x="429.4" y="249.9" class="at" text-anchor="middle" textLength="66.8" lengthAdjust="spacingAndGlyphs">Time (hours)</text>
<text transform="translate(292,115.7) rotate(-90)" class="at" text-anchor="middle" textLength="62.2" lengthAdjust="spacingAndGlyphs">CIN (J kg-1)</text>
<text x="513" y="30.6" font-size="11.5" font-weight="normal" class="lt">b</text>
<line x1="346.2" y1="25.8" x2="376" y2="25.8" stroke="#8c8c8c" stroke-width="2.8"/>
<path d="M359 23.91L363.2 25.8L359 27.69Z" fill="#2d7050"/>
<text x="375.7" y="28" class="lg" textLength="38.2" lengthAdjust="spacingAndGlyphs">Explicit_2km</text>
<line x1="346.2" y1="33.75" x2="376" y2="33.75" stroke="#00f800" stroke-width="3.1"/>
<text x="375.7" y="35.95" class="lg" textLength="38.2" lengthAdjust="spacingAndGlyphs">Explicit_4km</text>
<line x1="346.2" y1="41.7" x2="376" y2="41.7" stroke="#ff0000" stroke-width="3.1"/>
<text x="375.7" y="43.9" class="lg" textLength="37.6" lengthAdjust="spacingAndGlyphs">Grell-Freitas</text>
<line x1="346.2" y1="49.65" x2="376" y2="49.65" stroke="#0000ff" stroke-width="3.1"/>
<text x="375.7" y="51.85" class="lg" textLength="54.1" lengthAdjust="spacingAndGlyphs">Betts-Miller-Janjic</text>
<line x1="346.2" y1="57.6" x2="376" y2="57.6" stroke="#000000" stroke-width="3.1"/>
<text x="375.7" y="59.8" class="lg" textLength="36.3" lengthAdjust="spacingAndGlyphs">Kain-Fritsch</text>
<text x="402.7" y="268.4" class="cap">(<tspan font-weight="bold">b</tspan>)</text>
<rect x="56.6" y="283.3" width="197" height="197" fill="none" stroke="#3c3c3c" stroke-width="1.2"/>
<line x1="56.6" y1="480.3" x2="56.6" y2="485.1" stroke="#3c3c3c" stroke-width="1.2"/>
<line x1="56.6" y1="283.3" x2="56.6" y2="278.5" stroke="#3c3c3c" stroke-width="1.2"/>
<line x1="64.81" y1="480.3" x2="64.81" y2="482.9" stroke="#8a8a8a" stroke-width="0.7"/>
<line x1="64.81" y1="283.3" x2="64.81" y2="280.7" stroke="#8a8a8a" stroke-width="0.7"/>
<line x1="73.02" y1="480.3" x2="73.02" y2="482.9" stroke="#8a8a8a" stroke-width="0.7"/>
<line x1="73.02" y1="283.3" x2="73.02" y2="280.7" stroke="#8a8a8a" stroke-width="0.7"/>
<line x1="81.22" y1="480.3" x2="81.22" y2="482.9" stroke="#8a8a8a" stroke-width="0.7"/>
<line x1="81.22" y1="283.3" x2="81.22" y2="280.7" stroke="#8a8a8a" stroke-width="0.7"/>
<line x1="89.43" y1="480.3" x2="89.43" y2="485.1" stroke="#3c3c3c" stroke-width="1.2"/>
<line x1="89.43" y1="283.3" x2="89.43" y2="278.5" stroke="#3c3c3c" stroke-width="1.2"/>
<line x1="97.64" y1="480.3" x2="97.64" y2="482.9" stroke="#8a8a8a" stroke-width="0.7"/>
<line x1="97.64" y1="283.3" x2="97.64" y2="280.7" stroke="#8a8a8a" stroke-width="0.7"/>
<line x1="105.85" y1="480.3" x2="105.85" y2="482.9" stroke="#8a8a8a" stroke-width="0.7"/>
<line x1="105.85" y1="283.3" x2="105.85" y2="280.7" stroke="#8a8a8a" stroke-width="0.7"/>
<line x1="114.06" y1="480.3" x2="114.06" y2="482.9" stroke="#8a8a8a" stroke-width="0.7"/>
<line x1="114.06" y1="283.3" x2="114.06" y2="280.7" stroke="#8a8a8a" stroke-width="0.7"/>
<line x1="122.27" y1="480.3" x2="122.27" y2="485.1" stroke="#3c3c3c" stroke-width="1.2"/>
<line x1="122.27" y1="283.3" x2="122.27" y2="278.5" stroke="#3c3c3c" stroke-width="1.2"/>
<line x1="130.47" y1="480.3" x2="130.47" y2="482.9" stroke="#8a8a8a" stroke-width="0.7"/>
<line x1="130.47" y1="283.3" x2="130.47" y2="280.7" stroke="#8a8a8a" stroke-width="0.7"/>
<line x1="138.68" y1="480.3" x2="138.68" y2="482.9" stroke="#8a8a8a" stroke-width="0.7"/>
<line x1="138.68" y1="283.3" x2="138.68" y2="280.7" stroke="#8a8a8a" stroke-width="0.7"/>
<line x1="146.89" y1="480.3" x2="146.89" y2="482.9" stroke="#8a8a8a" stroke-width="0.7"/>
<line x1="146.89" y1="283.3" x2="146.89" y2="280.7" stroke="#8a8a8a" stroke-width="0.7"/>
<line x1="155.1" y1="480.3" x2="155.1" y2="485.1" stroke="#3c3c3c" stroke-width="1.2"/>
<line x1="155.1" y1="283.3" x2="155.1" y2="278.5" stroke="#3c3c3c" stroke-width="1.2"/>
<line x1="163.31" y1="480.3" x2="163.31" y2="482.9" stroke="#8a8a8a" stroke-width="0.7"/>
<line x1="163.31" y1="283.3" x2="163.31" y2="280.7" stroke="#8a8a8a" stroke-width="0.7"/>
<line x1="171.52" y1="480.3" x2="171.52" y2="482.9" stroke="#8a8a8a" stroke-width="0.7"/>
<line x1="171.52" y1="283.3" x2="171.52" y2="280.7" stroke="#8a8a8a" stroke-width="0.7"/>
<line x1="179.72" y1="480.3" x2="179.72" y2="482.9" stroke="#8a8a8a" stroke-width="0.7"/>
<line x1="179.72" y1="283.3" x2="179.72" y2="280.7" stroke="#8a8a8a" stroke-width="0.7"/>
<line x1="187.93" y1="480.3" x2="187.93" y2="485.1" stroke="#3c3c3c" stroke-width="1.2"/>
<line x1="187.93" y1="283.3" x2="187.93" y2="278.5" stroke="#3c3c3c" stroke-width="1.2"/>
<line x1="196.14" y1="480.3" x2="196.14" y2="482.9" stroke="#8a8a8a" stroke-width="0.7"/>
<line x1="196.14" y1="283.3" x2="196.14" y2="280.7" stroke="#8a8a8a" stroke-width="0.7"/>
<line x1="204.35" y1="480.3" x2="204.35" y2="482.9" stroke="#8a8a8a" stroke-width="0.7"/>
<line x1="204.35" y1="283.3" x2="204.35" y2="280.7" stroke="#8a8a8a" stroke-width="0.7"/>
<line x1="212.56" y1="480.3" x2="212.56" y2="482.9" stroke="#8a8a8a" stroke-width="0.7"/>
<line x1="212.56" y1="283.3" x2="212.56" y2="280.7" stroke="#8a8a8a" stroke-width="0.7"/>
<line x1="220.77" y1="480.3" x2="220.77" y2="485.1" stroke="#3c3c3c" stroke-width="1.2"/>
<line x1="220.77" y1="283.3" x2="220.77" y2="278.5" stroke="#3c3c3c" stroke-width="1.2"/>
<line x1="228.97" y1="480.3" x2="228.97" y2="482.9" stroke="#8a8a8a" stroke-width="0.7"/>
<line x1="228.97" y1="283.3" x2="228.97" y2="280.7" stroke="#8a8a8a" stroke-width="0.7"/>
<line x1="237.18" y1="480.3" x2="237.18" y2="482.9" stroke="#8a8a8a" stroke-width="0.7"/>
<line x1="237.18" y1="283.3" x2="237.18" y2="280.7" stroke="#8a8a8a" stroke-width="0.7"/>
<line x1="245.39" y1="480.3" x2="245.39" y2="482.9" stroke="#8a8a8a" stroke-width="0.7"/>
<line x1="245.39" y1="283.3" x2="245.39" y2="280.7" stroke="#8a8a8a" stroke-width="0.7"/>
<line x1="253.6" y1="480.3" x2="253.6" y2="485.1" stroke="#3c3c3c" stroke-width="1.2"/>
<line x1="253.6" y1="283.3" x2="253.6" y2="278.5" stroke="#3c3c3c" stroke-width="1.2"/>
<line x1="56.6" y1="480.3" x2="51.8" y2="480.3" stroke="#3c3c3c" stroke-width="1.2"/>
<line x1="253.6" y1="480.3" x2="258.4" y2="480.3" stroke="#3c3c3c" stroke-width="1.2"/>
<line x1="56.6" y1="473.26" x2="54" y2="473.26" stroke="#8a8a8a" stroke-width="0.7"/>
<line x1="253.6" y1="473.26" x2="256.2" y2="473.26" stroke="#8a8a8a" stroke-width="0.7"/>
<line x1="56.6" y1="466.23" x2="54" y2="466.23" stroke="#8a8a8a" stroke-width="0.7"/>
<line x1="253.6" y1="466.23" x2="256.2" y2="466.23" stroke="#8a8a8a" stroke-width="0.7"/>
<line x1="56.6" y1="459.19" x2="54" y2="459.19" stroke="#8a8a8a" stroke-width="0.7"/>
<line x1="253.6" y1="459.19" x2="256.2" y2="459.19" stroke="#8a8a8a" stroke-width="0.7"/>
<line x1="56.6" y1="452.16" x2="51.8" y2="452.16" stroke="#3c3c3c" stroke-width="1.2"/>
<line x1="253.6" y1="452.16" x2="258.4" y2="452.16" stroke="#3c3c3c" stroke-width="1.2"/>
<line x1="56.6" y1="445.12" x2="54" y2="445.12" stroke="#8a8a8a" stroke-width="0.7"/>
<line x1="253.6" y1="445.12" x2="256.2" y2="445.12" stroke="#8a8a8a" stroke-width="0.7"/>
<line x1="56.6" y1="438.09" x2="54" y2="438.09" stroke="#8a8a8a" stroke-width="0.7"/>
<line x1="253.6" y1="438.09" x2="256.2" y2="438.09" stroke="#8a8a8a" stroke-width="0.7"/>
<line x1="56.6" y1="431.05" x2="54" y2="431.05" stroke="#8a8a8a" stroke-width="0.7"/>
<line x1="253.6" y1="431.05" x2="256.2" y2="431.05" stroke="#8a8a8a" stroke-width="0.7"/>
<line x1="56.6" y1="424.01" x2="51.8" y2="424.01" stroke="#3c3c3c" stroke-width="1.2"/>
<line x1="253.6" y1="424.01" x2="258.4" y2="424.01" stroke="#3c3c3c" stroke-width="1.2"/>
<line x1="56.6" y1="416.98" x2="54" y2="416.98" stroke="#8a8a8a" stroke-width="0.7"/>
<line x1="253.6" y1="416.98" x2="256.2" y2="416.98" stroke="#8a8a8a" stroke-width="0.7"/>
<line x1="56.6" y1="409.94" x2="54" y2="409.94" stroke="#8a8a8a" stroke-width="0.7"/>
<line x1="253.6" y1="409.94" x2="256.2" y2="409.94" stroke="#8a8a8a" stroke-width="0.7"/>
<line x1="56.6" y1="402.91" x2="54" y2="402.91" stroke="#8a8a8a" stroke-width="0.7"/>
<line x1="253.6" y1="402.91" x2="256.2" y2="402.91" stroke="#8a8a8a" stroke-width="0.7"/>
<line x1="56.6" y1="395.87" x2="51.8" y2="395.87" stroke="#3c3c3c" stroke-width="1.2"/>
<line x1="253.6" y1="395.87" x2="258.4" y2="395.87" stroke="#3c3c3c" stroke-width="1.2"/>
<line x1="56.6" y1="388.84" x2="54" y2="388.84" stroke="#8a8a8a" stroke-width="0.7"/>
<line x1="253.6" y1="388.84" x2="256.2" y2="388.84" stroke="#8a8a8a" stroke-width="0.7"/>
<line x1="56.6" y1="381.8" x2="54" y2="381.8" stroke="#8a8a8a" stroke-width="0.7"/>
<line x1="253.6" y1="381.8" x2="256.2" y2="381.8" stroke="#8a8a8a" stroke-width="0.7"/>
<line x1="56.6" y1="374.76" x2="54" y2="374.76" stroke="#8a8a8a" stroke-width="0.7"/>
<line x1="253.6" y1="374.76" x2="256.2" y2="374.76" stroke="#8a8a8a" stroke-width="0.7"/>
<line x1="56.6" y1="367.73" x2="51.8" y2="367.73" stroke="#3c3c3c" stroke-width="1.2"/>
<line x1="253.6" y1="367.73" x2="258.4" y2="367.73" stroke="#3c3c3c" stroke-width="1.2"/>
<line x1="56.6" y1="360.69" x2="54" y2="360.69" stroke="#8a8a8a" stroke-width="0.7"/>
<line x1="253.6" y1="360.69" x2="256.2" y2="360.69" stroke="#8a8a8a" stroke-width="0.7"/>
<line x1="56.6" y1="353.66" x2="54" y2="353.66" stroke="#8a8a8a" stroke-width="0.7"/>
<line x1="253.6" y1="353.66" x2="256.2" y2="353.66" stroke="#8a8a8a" stroke-width="0.7"/>
<line x1="56.6" y1="346.62" x2="54" y2="346.62" stroke="#8a8a8a" stroke-width="0.7"/>
<line x1="253.6" y1="346.62" x2="256.2" y2="346.62" stroke="#8a8a8a" stroke-width="0.7"/>
<line x1="56.6" y1="339.59" x2="51.8" y2="339.59" stroke="#3c3c3c" stroke-width="1.2"/>
<line x1="253.6" y1="339.59" x2="258.4" y2="339.59" stroke="#3c3c3c" stroke-width="1.2"/>
<line x1="56.6" y1="332.55" x2="54" y2="332.55" stroke="#8a8a8a" stroke-width="0.7"/>
<line x1="253.6" y1="332.55" x2="256.2" y2="332.55" stroke="#8a8a8a" stroke-width="0.7"/>
<line x1="56.6" y1="325.51" x2="54" y2="325.51" stroke="#8a8a8a" stroke-width="0.7"/>
<line x1="253.6" y1="325.51" x2="256.2" y2="325.51" stroke="#8a8a8a" stroke-width="0.7"/>
<line x1="56.6" y1="318.48" x2="54" y2="318.48" stroke="#8a8a8a" stroke-width="0.7"/>
<line x1="253.6" y1="318.48" x2="256.2" y2="318.48" stroke="#8a8a8a" stroke-width="0.7"/>
<line x1="56.6" y1="311.44" x2="51.8" y2="311.44" stroke="#3c3c3c" stroke-width="1.2"/>
<line x1="253.6" y1="311.44" x2="258.4" y2="311.44" stroke="#3c3c3c" stroke-width="1.2"/>
<line x1="56.6" y1="304.41" x2="54" y2="304.41" stroke="#8a8a8a" stroke-width="0.7"/>
<line x1="253.6" y1="304.41" x2="256.2" y2="304.41" stroke="#8a8a8a" stroke-width="0.7"/>
<line x1="56.6" y1="297.37" x2="54" y2="297.37" stroke="#8a8a8a" stroke-width="0.7"/>
<line x1="253.6" y1="297.37" x2="256.2" y2="297.37" stroke="#8a8a8a" stroke-width="0.7"/>
<line x1="56.6" y1="290.34" x2="54" y2="290.34" stroke="#8a8a8a" stroke-width="0.7"/>
<line x1="253.6" y1="290.34" x2="256.2" y2="290.34" stroke="#8a8a8a" stroke-width="0.7"/>
<line x1="56.6" y1="283.3" x2="51.8" y2="283.3" stroke="#3c3c3c" stroke-width="1.2"/>
<line x1="253.6" y1="283.3" x2="258.4" y2="283.3" stroke="#3c3c3c" stroke-width="1.2"/>
<g clip-path="url(#clipc)" fill="none" stroke-linejoin="round">
<polyline points="56.6,423.38 64.81,423.59 73.02,427.6 81.22,428.52 89.43,429.78 97.64,427.6 105.85,421.48 114.06,412.83 122.27,425 130.47,431.33 138.68,422.4 146.89,433.23 155.1,436.4 163.31,434.22 171.52,437.03 179.72,441.88 187.93,447.44 196.14,450.82 204.35,460.74 212.56,468.48 220.77,449.69 228.97,457.43 237.18,449.69 245.39,469.61 253.6,473.97" stroke="#000000" stroke-width="2.7"/>
<polyline points="56.6,423.38 64.81,423.59 73.02,427.6 81.22,428.52 89.43,429.78 97.64,427.6 105.85,421.48 114.06,414.16 122.27,419.09 130.47,432.6 138.68,462.99 146.89,450.4 155.1,437.38 163.31,434.22 171.52,420.22 179.72,423.1 187.93,423.1 196.14,429.71 204.35,406 212.56,405.37 220.77,406 228.97,416.49 237.18,419.3 245.39,413.81 253.6,419.3" stroke="#0000ff" stroke-width="2.7"/>
<polyline points="56.6,423.38 64.81,423.59 73.02,427.6 81.22,428.52 89.43,429.78 97.64,427.6 105.85,421.48 114.06,412.83 122.27,425.49 130.47,425.07 138.68,427.18 146.89,429.99 155.1,431.33 163.31,420.92 171.52,417.12 179.72,420.92 187.93,425.28 196.14,432.04 204.35,438.58 212.56,451.88 220.77,442.38 228.97,442.38 237.18,450.82 245.39,450.61 253.6,443.01" stroke="#ff0000" stroke-width="2.7"/>
<polyline points="56.6,423.52 64.81,423.8 73.02,428.1 81.22,429.08 89.43,430.49 97.64,428.24 105.85,421.9 114.06,413.11 122.27,428.1 130.47,431.33 138.68,425.49 146.89,436.4 155.1,431.82 163.31,419.79 171.52,415.29 179.72,419.79 187.93,423.1 196.14,340.85 204.35,302.01 212.56,333.75 220.77,365.06 228.97,323.61 237.18,321.43 245.39,289.91 253.6,311.02" stroke="#00f800" stroke-width="2.7"/>
<polyline points="56.6,423.38 64.81,423.59 73.02,427.6 81.22,428.52 89.43,429.78 97.64,427.6 105.85,421.48 114.06,412.83 122.27,424.3 130.47,431.33 138.68,413.6 146.89,379.55 155.1,399.81 163.31,417.12 171.52,407.62 179.72,412.55 187.93,414.23 196.14,341.7 204.35,323.61 212.56,317.56 220.77,297.72 228.97,311.02 237.18,300.33 245.39,292.17 253.6,312.15" stroke="#8c8c8c" stroke-width="2.0"/>
<path d="M54.8 421.76L58.4 423.38L54.8 425Z" fill="#2d7050"/>
<path d="M63.01 421.97L66.61 423.59L63.01 425.21Z" fill="#2d7050"/>
<path d="M71.22 425.98L74.82 427.6L71.22 429.22Z" fill="#2d7050"/>
<path d="M79.42 426.9L83.02 428.52L79.42 430.14Z" fill="#2d7050"/>
<path d="M87.63 428.16L91.23 429.78L87.63 431.4Z" fill="#2d7050"/>
<path d="M95.84 425.98L99.44 427.6L95.84 429.22Z" fill="#2d7050"/>
<path d="M104.05 419.86L107.65 421.48L104.05 423.1Z" fill="#2d7050"/>
<path d="M112.26 411.21L115.86 412.83L112.26 414.45Z" fill="#2d7050"/>
<path d="M120.47 422.68L124.07 424.3L120.47 425.92Z" fill="#2d7050"/>
<path d="M128.67 429.71L132.28 431.33L128.67 432.95Z" fill="#2d7050"/>
<path d="M136.88 411.98L140.48 413.6L136.88 415.22Z" fill="#2d7050"/>
<path d="M145.09 377.93L148.69 379.55L145.09 381.17Z" fill="#2d7050"/>
<path d="M153.3 398.19L156.9 399.81L153.3 401.43Z" fill="#2d7050"/>
<path d="M161.51 415.5L165.11 417.12L161.51 418.74Z" fill="#2d7050"/>
<path d="M169.72 406L173.32 407.62L169.72 409.24Z" fill="#2d7050"/>
<path d="M177.92 410.93L181.53 412.55L177.92 414.17Z" fill="#2d7050"/>
<path d="M186.13 412.61L189.73 414.23L186.13 415.85Z" fill="#2d7050"/>
<path d="M194.34 340.08L197.94 341.7L194.34 343.32Z" fill="#2d7050"/>
<path d="M202.55 321.99L206.15 323.61L202.55 325.23Z" fill="#2d7050"/>
<path d="M210.76 315.94L214.36 317.56L210.76 319.18Z" fill="#2d7050"/>
<path d="M218.97 296.1L222.57 297.72L218.97 299.34Z" fill="#2d7050"/>
<path d="M227.17 309.4L230.78 311.02L227.17 312.64Z" fill="#2d7050"/>
<path d="M235.38 298.71L238.98 300.33L235.38 301.95Z" fill="#2d7050"/>
<path d="M243.59 290.55L247.19 292.17L243.59 293.79Z" fill="#2d7050"/>
<path d="M251.8 310.53L255.4 312.15L251.8 313.77Z" fill="#2d7050"/>
</g>
<text x="56.6" y="498.3" class="tl" text-anchor="middle">0</text>
<text x="89.43" y="498.3" class="tl" text-anchor="middle">4</text>
<text x="122.27" y="498.3" class="tl" text-anchor="middle">8</text>
<text x="155.1" y="498.3" class="tl" text-anchor="middle">12</text>
<text x="187.93" y="498.3" class="tl" text-anchor="middle">16</text>
<text x="220.77" y="498.3" class="tl" text-anchor="middle">20</text>
<text x="253.6" y="498.3" class="tl" text-anchor="middle">24</text>
<text x="45.4" y="483.6" class="tl" text-anchor="end">800</text>
<text x="45.4" y="455.46" class="tl" text-anchor="end">1200</text>
<text x="45.4" y="427.31" class="tl" text-anchor="end">1600</text>
<text x="45.4" y="399.17" class="tl" text-anchor="end">2000</text>
<text x="45.4" y="371.03" class="tl" text-anchor="end">2400</text>
<text x="45.4" y="342.89" class="tl" text-anchor="end">2800</text>
<text x="45.4" y="314.74" class="tl" text-anchor="end">3200</text>
<text x="45.4" y="286.6" class="tl" text-anchor="end">3600</text>
<text x="155.7" y="513.8" class="at" text-anchor="middle" textLength="63.8" lengthAdjust="spacingAndGlyphs">Time (hours)</text>
<text transform="translate(17.3,381.8) rotate(-90)" class="at" text-anchor="middle" textLength="42" lengthAdjust="spacingAndGlyphs">LCL (m)</text>
<text x="62" y="297.6" font-size="11.5" font-weight="normal" class="lt">c</text>
<line x1="74.4" y1="293.7" x2="103.3" y2="293.7" stroke="#8c8c8c" stroke-width="2.8"/>
<path d="M86.75 291.81L90.95 293.7L86.75 295.59Z" fill="#2d7050"/>
<text x="103.1" y="295.9" class="lg" textLength="37.5" lengthAdjust="spacingAndGlyphs">Explicit_2km</text>
<line x1="74.4" y1="301.48" x2="103.3" y2="301.48" stroke="#00f800" stroke-width="3.1"/>
<text x="103.1" y="303.68" class="lg" textLength="37.5" lengthAdjust="spacingAndGlyphs">Explicit_4km</text>
<line x1="74.4" y1="309.26" x2="103.3" y2="309.26" stroke="#ff0000" stroke-width="3.1"/>
<text x="103.1" y="311.46" class="lg" textLength="36.9" lengthAdjust="spacingAndGlyphs">Grell-Freitas</text>
<line x1="74.4" y1="317.04" x2="103.3" y2="317.04" stroke="#0000ff" stroke-width="3.1"/>
<text x="103.1" y="319.24" class="lg" textLength="52.8" lengthAdjust="spacingAndGlyphs">Betts-Miller-Janjic</text>
<line x1="74.4" y1="324.82" x2="103.3" y2="324.82" stroke="#000000" stroke-width="3.1"/>
<text x="103.1" y="327.02" class="lg" textLength="35.6" lengthAdjust="spacingAndGlyphs">Kain-Fritsch</text>
<text x="125.5" y="536.5" class="cap">(<tspan font-weight="bold">c</tspan>)</text>
<rect x="331.5" y="282.4" width="202" height="203.1" fill="none" stroke="#3c3c3c" stroke-width="1.2"/>
<line x1="331.5" y1="485.5" x2="331.5" y2="490.3" stroke="#3c3c3c" stroke-width="1.2"/>
<line x1="331.5" y1="282.4" x2="331.5" y2="277.6" stroke="#3c3c3c" stroke-width="1.2"/>
<line x1="339.92" y1="485.5" x2="339.92" y2="488.1" stroke="#8a8a8a" stroke-width="0.7"/>
<line x1="339.92" y1="282.4" x2="339.92" y2="279.8" stroke="#8a8a8a" stroke-width="0.7"/>
<line x1="348.33" y1="485.5" x2="348.33" y2="488.1" stroke="#8a8a8a" stroke-width="0.7"/>
<line x1="348.33" y1="282.4" x2="348.33" y2="279.8" stroke="#8a8a8a" stroke-width="0.7"/>
<line x1="356.75" y1="485.5" x2="356.75" y2="488.1" stroke="#8a8a8a" stroke-width="0.7"/>
<line x1="356.75" y1="282.4" x2="356.75" y2="279.8" stroke="#8a8a8a" stroke-width="0.7"/>
<line x1="365.17" y1="485.5" x2="365.17" y2="490.3" stroke="#3c3c3c" stroke-width="1.2"/>
<line x1="365.17" y1="282.4" x2="365.17" y2="277.6" stroke="#3c3c3c" stroke-width="1.2"/>
<line x1="373.58" y1="485.5" x2="373.58" y2="488.1" stroke="#8a8a8a" stroke-width="0.7"/>
<line x1="373.58" y1="282.4" x2="373.58" y2="279.8" stroke="#8a8a8a" stroke-width="0.7"/>
<line x1="382" y1="485.5" x2="382" y2="488.1" stroke="#8a8a8a" stroke-width="0.7"/>
<line x1="382" y1="282.4" x2="382" y2="279.8" stroke="#8a8a8a" stroke-width="0.7"/>
<line x1="390.42" y1="485.5" x2="390.42" y2="488.1" stroke="#8a8a8a" stroke-width="0.7"/>
<line x1="390.42" y1="282.4" x2="390.42" y2="279.8" stroke="#8a8a8a" stroke-width="0.7"/>
<line x1="398.83" y1="485.5" x2="398.83" y2="490.3" stroke="#3c3c3c" stroke-width="1.2"/>
<line x1="398.83" y1="282.4" x2="398.83" y2="277.6" stroke="#3c3c3c" stroke-width="1.2"/>
<line x1="407.25" y1="485.5" x2="407.25" y2="488.1" stroke="#8a8a8a" stroke-width="0.7"/>
<line x1="407.25" y1="282.4" x2="407.25" y2="279.8" stroke="#8a8a8a" stroke-width="0.7"/>
<line x1="415.67" y1="485.5" x2="415.67" y2="488.1" stroke="#8a8a8a" stroke-width="0.7"/>
<line x1="415.67" y1="282.4" x2="415.67" y2="279.8" stroke="#8a8a8a" stroke-width="0.7"/>
<line x1="424.08" y1="485.5" x2="424.08" y2="488.1" stroke="#8a8a8a" stroke-width="0.7"/>
<line x1="424.08" y1="282.4" x2="424.08" y2="279.8" stroke="#8a8a8a" stroke-width="0.7"/>
<line x1="432.5" y1="485.5" x2="432.5" y2="490.3" stroke="#3c3c3c" stroke-width="1.2"/>
<line x1="432.5" y1="282.4" x2="432.5" y2="277.6" stroke="#3c3c3c" stroke-width="1.2"/>
<line x1="440.92" y1="485.5" x2="440.92" y2="488.1" stroke="#8a8a8a" stroke-width="0.7"/>
<line x1="440.92" y1="282.4" x2="440.92" y2="279.8" stroke="#8a8a8a" stroke-width="0.7"/>
<line x1="449.33" y1="485.5" x2="449.33" y2="488.1" stroke="#8a8a8a" stroke-width="0.7"/>
<line x1="449.33" y1="282.4" x2="449.33" y2="279.8" stroke="#8a8a8a" stroke-width="0.7"/>
<line x1="457.75" y1="485.5" x2="457.75" y2="488.1" stroke="#8a8a8a" stroke-width="0.7"/>
<line x1="457.75" y1="282.4" x2="457.75" y2="279.8" stroke="#8a8a8a" stroke-width="0.7"/>
<line x1="466.17" y1="485.5" x2="466.17" y2="490.3" stroke="#3c3c3c" stroke-width="1.2"/>
<line x1="466.17" y1="282.4" x2="466.17" y2="277.6" stroke="#3c3c3c" stroke-width="1.2"/>
<line x1="474.58" y1="485.5" x2="474.58" y2="488.1" stroke="#8a8a8a" stroke-width="0.7"/>
<line x1="474.58" y1="282.4" x2="474.58" y2="279.8" stroke="#8a8a8a" stroke-width="0.7"/>
<line x1="483" y1="485.5" x2="483" y2="488.1" stroke="#8a8a8a" stroke-width="0.7"/>
<line x1="483" y1="282.4" x2="483" y2="279.8" stroke="#8a8a8a" stroke-width="0.7"/>
<line x1="491.42" y1="485.5" x2="491.42" y2="488.1" stroke="#8a8a8a" stroke-width="0.7"/>
<line x1="491.42" y1="282.4" x2="491.42" y2="279.8" stroke="#8a8a8a" stroke-width="0.7"/>
<line x1="499.83" y1="485.5" x2="499.83" y2="490.3" stroke="#3c3c3c" stroke-width="1.2"/>
<line x1="499.83" y1="282.4" x2="499.83" y2="277.6" stroke="#3c3c3c" stroke-width="1.2"/>
<line x1="508.25" y1="485.5" x2="508.25" y2="488.1" stroke="#8a8a8a" stroke-width="0.7"/>
<line x1="508.25" y1="282.4" x2="508.25" y2="279.8" stroke="#8a8a8a" stroke-width="0.7"/>
<line x1="516.67" y1="485.5" x2="516.67" y2="488.1" stroke="#8a8a8a" stroke-width="0.7"/>
<line x1="516.67" y1="282.4" x2="516.67" y2="279.8" stroke="#8a8a8a" stroke-width="0.7"/>
<line x1="525.08" y1="485.5" x2="525.08" y2="488.1" stroke="#8a8a8a" stroke-width="0.7"/>
<line x1="525.08" y1="282.4" x2="525.08" y2="279.8" stroke="#8a8a8a" stroke-width="0.7"/>
<line x1="533.5" y1="485.5" x2="533.5" y2="490.3" stroke="#3c3c3c" stroke-width="1.2"/>
<line x1="533.5" y1="282.4" x2="533.5" y2="277.6" stroke="#3c3c3c" stroke-width="1.2"/>
<line x1="331.5" y1="485.5" x2="326.7" y2="485.5" stroke="#3c3c3c" stroke-width="1.2"/>
<line x1="533.5" y1="485.5" x2="538.3" y2="485.5" stroke="#3c3c3c" stroke-width="1.2"/>
<line x1="331.5" y1="477.38" x2="328.9" y2="477.38" stroke="#8a8a8a" stroke-width="0.7"/>
<line x1="533.5" y1="477.38" x2="536.1" y2="477.38" stroke="#8a8a8a" stroke-width="0.7"/>
<line x1="331.5" y1="469.25" x2="328.9" y2="469.25" stroke="#8a8a8a" stroke-width="0.7"/>
<line x1="533.5" y1="469.25" x2="536.1" y2="469.25" stroke="#8a8a8a" stroke-width="0.7"/>
<line x1="331.5" y1="461.13" x2="328.9" y2="461.13" stroke="#8a8a8a" stroke-width="0.7"/>
<line x1="533.5" y1="461.13" x2="536.1" y2="461.13" stroke="#8a8a8a" stroke-width="0.7"/>
<line x1="331.5" y1="453" x2="328.9" y2="453" stroke="#8a8a8a" stroke-width="0.7"/>
<line x1="533.5" y1="453" x2="536.1" y2="453" stroke="#8a8a8a" stroke-width="0.7"/>
<line x1="331.5" y1="444.88" x2="326.7" y2="444.88" stroke="#3c3c3c" stroke-width="1.2"/>
<line x1="533.5" y1="444.88" x2="538.3" y2="444.88" stroke="#3c3c3c" stroke-width="1.2"/>
<line x1="331.5" y1="436.76" x2="328.9" y2="436.76" stroke="#8a8a8a" stroke-width="0.7"/>
<line x1="533.5" y1="436.76" x2="536.1" y2="436.76" stroke="#8a8a8a" stroke-width="0.7"/>
<line x1="331.5" y1="428.63" x2="328.9" y2="428.63" stroke="#8a8a8a" stroke-width="0.7"/>
<line x1="533.5" y1="428.63" x2="536.1" y2="428.63" stroke="#8a8a8a" stroke-width="0.7"/>
<line x1="331.5" y1="420.51" x2="328.9" y2="420.51" stroke="#8a8a8a" stroke-width="0.7"/>
<line x1="533.5" y1="420.51" x2="536.1" y2="420.51" stroke="#8a8a8a" stroke-width="0.7"/>
<line x1="331.5" y1="412.38" x2="328.9" y2="412.38" stroke="#8a8a8a" stroke-width="0.7"/>
<line x1="533.5" y1="412.38" x2="536.1" y2="412.38" stroke="#8a8a8a" stroke-width="0.7"/>
<line x1="331.5" y1="404.26" x2="326.7" y2="404.26" stroke="#3c3c3c" stroke-width="1.2"/>
<line x1="533.5" y1="404.26" x2="538.3" y2="404.26" stroke="#3c3c3c" stroke-width="1.2"/>
<line x1="331.5" y1="396.14" x2="328.9" y2="396.14" stroke="#8a8a8a" stroke-width="0.7"/>
<line x1="533.5" y1="396.14" x2="536.1" y2="396.14" stroke="#8a8a8a" stroke-width="0.7"/>
<line x1="331.5" y1="388.01" x2="328.9" y2="388.01" stroke="#8a8a8a" stroke-width="0.7"/>
<line x1="533.5" y1="388.01" x2="536.1" y2="388.01" stroke="#8a8a8a" stroke-width="0.7"/>
<line x1="331.5" y1="379.89" x2="328.9" y2="379.89" stroke="#8a8a8a" stroke-width="0.7"/>
<line x1="533.5" y1="379.89" x2="536.1" y2="379.89" stroke="#8a8a8a" stroke-width="0.7"/>
<line x1="331.5" y1="371.76" x2="328.9" y2="371.76" stroke="#8a8a8a" stroke-width="0.7"/>
<line x1="533.5" y1="371.76" x2="536.1" y2="371.76" stroke="#8a8a8a" stroke-width="0.7"/>
<line x1="331.5" y1="363.64" x2="326.7" y2="363.64" stroke="#3c3c3c" stroke-width="1.2"/>
<line x1="533.5" y1="363.64" x2="538.3" y2="363.64" stroke="#3c3c3c" stroke-width="1.2"/>
<line x1="331.5" y1="355.52" x2="328.9" y2="355.52" stroke="#8a8a8a" stroke-width="0.7"/>
<line x1="533.5" y1="355.52" x2="536.1" y2="355.52" stroke="#8a8a8a" stroke-width="0.7"/>
<line x1="331.5" y1="347.39" x2="328.9" y2="347.39" stroke="#8a8a8a" stroke-width="0.7"/>
<line x1="533.5" y1="347.39" x2="536.1" y2="347.39" stroke="#8a8a8a" stroke-width="0.7"/>
<line x1="331.5" y1="339.27" x2="328.9" y2="339.27" stroke="#8a8a8a" stroke-width="0.7"/>
<line x1="533.5" y1="339.27" x2="536.1" y2="339.27" stroke="#8a8a8a" stroke-width="0.7"/>
<line x1="331.5" y1="331.14" x2="328.9" y2="331.14" stroke="#8a8a8a" stroke-width="0.7"/>
<line x1="533.5" y1="331.14" x2="536.1" y2="331.14" stroke="#8a8a8a" stroke-width="0.7"/>
<line x1="331.5" y1="323.02" x2="326.7" y2="323.02" stroke="#3c3c3c" stroke-width="1.2"/>
<line x1="533.5" y1="323.02" x2="538.3" y2="323.02" stroke="#3c3c3c" stroke-width="1.2"/>
<line x1="331.5" y1="314.9" x2="328.9" y2="314.9" stroke="#8a8a8a" stroke-width="0.7"/>
<line x1="533.5" y1="314.9" x2="536.1" y2="314.9" stroke="#8a8a8a" stroke-width="0.7"/>
<line x1="331.5" y1="306.77" x2="328.9" y2="306.77" stroke="#8a8a8a" stroke-width="0.7"/>
<line x1="533.5" y1="306.77" x2="536.1" y2="306.77" stroke="#8a8a8a" stroke-width="0.7"/>
<line x1="331.5" y1="298.65" x2="328.9" y2="298.65" stroke="#8a8a8a" stroke-width="0.7"/>
<line x1="533.5" y1="298.65" x2="536.1" y2="298.65" stroke="#8a8a8a" stroke-width="0.7"/>
<line x1="331.5" y1="290.52" x2="328.9" y2="290.52" stroke="#8a8a8a" stroke-width="0.7"/>
<line x1="533.5" y1="290.52" x2="536.1" y2="290.52" stroke="#8a8a8a" stroke-width="0.7"/>
<line x1="331.5" y1="282.4" x2="326.7" y2="282.4" stroke="#3c3c3c" stroke-width="1.2"/>
<line x1="533.5" y1="282.4" x2="538.3" y2="282.4" stroke="#3c3c3c" stroke-width="1.2"/>
<g clip-path="url(#clipd)" fill="none" stroke-linejoin="round">
<polyline points="331.5,353.08 339.92,357.71 348.33,369.12 356.75,363.19 365.17,362.83 373.58,353.08 382,346.58 390.42,347.6 398.83,353.08 407.25,383.5 415.67,375.83 424.08,380.7 432.5,392.28 440.92,414.21 449.33,419.9 457.75,421.08 466.17,414.21 474.58,417.22 483,417.66 491.42,414.21 499.83,391.79 508.25,387.69 516.67,383.5 525.08,384.19 533.5,385.41" stroke="#000000" stroke-width="2.7"/>
<polyline points="331.5,353.08 339.92,357.71 348.33,369.12 356.75,362.42 365.17,362.83 373.58,353.89 382,354.38 390.42,354.5 398.83,353.08 407.25,384.48 415.67,403.81 424.08,409.58 432.5,395.69 440.92,394.11 449.33,371.48 457.75,372.7 466.17,396.91 474.58,364.57 483,359.98 491.42,366.89 499.83,368.03 508.25,372.21 516.67,370.38 525.08,373.15 533.5,369.2" stroke="#0000ff" stroke-width="2.7"/>
<polyline points="331.5,353.08 339.92,357.71 348.33,369.12 356.75,362.42 365.17,362.02 373.58,353.08 382,348.45 390.42,344.14 398.83,353.08 407.25,386.31 415.67,400.2 424.08,392.28 432.5,396.91 440.92,414.21 449.33,409.58 457.75,416.49 466.17,419.9 474.58,416.49 483,422.3 491.42,425.71 499.83,422.3 508.25,394.59 516.67,423.39 525.08,419.9 533.5,418.11" stroke="#ff0000" stroke-width="2.7"/>
<polyline points="331.5,353.89 339.92,358.36 348.33,369.73 356.75,363.84 365.17,363.64 373.58,353.49 382,351.86 390.42,347.6 398.83,353.08 407.25,386.31 415.67,403.04 424.08,403.04 432.5,408.4 440.92,414.9 449.33,404.99 457.75,415.31 466.17,410.19 474.58,-22.25 483,-326.9 491.42,-326.9 499.83,-326.9 508.25,-326.9 516.67,-326.9 525.08,-1951.7 533.5,299.46" stroke="#00f800" stroke-width="2.7"/>
<polyline points="331.5,353.08 339.92,357.71 348.33,369.12 356.75,363.19 365.17,362.83 373.58,351.86 382,350.24 390.42,347.39 398.83,353.08 407.25,386.31 415.67,395.49 424.08,388.22 432.5,388.38 440.92,401.5 449.33,407.31 457.75,410.68 466.17,394.11 474.58,176.79 483,-326.9 491.42,-326.9 499.83,-326.9 508.25,-326.9 516.67,-326.9 525.08,-326.9 533.5,-326.9" stroke="#8c8c8c" stroke-width="2.0"/>
<path d="M329.7 351.46L333.3 353.08L329.7 354.7Z" fill="#2d7050"/>
<path d="M338.12 356.09L341.72 357.71L338.12 359.33Z" fill="#2d7050"/>
<path d="M346.53 367.5L350.13 369.12L346.53 370.74Z" fill="#2d7050"/>
<path d="M354.95 361.57L358.55 363.19L354.95 364.81Z" fill="#2d7050"/>
<path d="M363.37 361.21L366.97 362.83L363.37 364.45Z" fill="#2d7050"/>
<path d="M371.78 350.24L375.38 351.86L371.78 353.48Z" fill="#2d7050"/>
<path d="M380.2 348.62L383.8 350.24L380.2 351.86Z" fill="#2d7050"/>
<path d="M388.62 345.77L392.22 347.39L388.62 349.01Z" fill="#2d7050"/>
<path d="M397.03 351.46L400.63 353.08L397.03 354.7Z" fill="#2d7050"/>
<path d="M405.45 384.69L409.05 386.31L405.45 387.93Z" fill="#2d7050"/>
<path d="M413.87 393.87L417.47 395.49L413.87 397.11Z" fill="#2d7050"/>
<path d="M422.28 386.6L425.88 388.22L422.28 389.84Z" fill="#2d7050"/>
<path d="M430.7 386.76L434.3 388.38L430.7 390Z" fill="#2d7050"/>
<path d="M439.12 399.88L442.72 401.5L439.12 403.12Z" fill="#2d7050"/>
<path d="M447.53 405.69L451.13 407.31L447.53 408.93Z" fill="#2d7050"/>
<path d="M455.95 409.06L459.55 410.68L455.95 412.3Z" fill="#2d7050"/>
<path d="M464.37 392.49L467.97 394.11L464.37 395.73Z" fill="#2d7050"/>
</g>
<circle cx="431.7" cy="455.9" r="3.3" fill="#000"/>
<text x="331.5" y="503.5" class="tl" text-anchor="middle">0</text>
<text x="365.17" y="503.5" class="tl" text-anchor="middle">4</text>
<text x="398.83" y="503.5" class="tl" text-anchor="middle">8</text>
<text x="432.5" y="503.5" class="tl" text-anchor="middle">12</text>
<text x="466.17" y="503.5" class="tl" text-anchor="middle">16</text>
<text x="499.83" y="503.5" class="tl" text-anchor="middle">20</text>
<text x="533.5" y="503.5" class="tl" text-anchor="middle">24</text>
<text x="319.5" y="488.8" class="tl" text-anchor="end">0</text>
<text x="319.5" y="448.18" class="tl" text-anchor="end">1000</text>
<text x="319.5" y="407.56" class="tl" text-anchor="end">2000</text>
<text x="319.5" y="366.94" class="tl" text-anchor="end">3000</text>
<text x="319.5" y="326.32" class="tl" text-anchor="end">4000</text>
<text x="319.5" y="285.7" class="tl" text-anchor="end">5000</text>
<text x="433.1" y="519" class="at" text-anchor="middle" textLength="66.7" lengthAdjust="spacingAndGlyphs">Time (hours)</text>
<text transform="translate(291,383.95) rotate(-90)" class="at" text-anchor="middle" textLength="42.8" lengthAdjust="spacingAndGlyphs">LFC (m)</text>
<text x="335.3" y="298.5" font-size="11.5" font-weight="normal" class="lt">d</text>
<line x1="349.8" y1="293.1" x2="379.5" y2="293.1" stroke="#8c8c8c" stroke-width="2.8"/>
<path d="M362.55 291.21L366.75 293.1L362.55 294.99Z" fill="#2d7050"/>
<text x="379.1" y="295.3" class="lg" textLength="38.2" lengthAdjust="spacingAndGlyphs">Explicit_2km</text>
<line x1="349.8" y1="301.1" x2="379.5" y2="301.1" stroke="#00f800" stroke-width="3.1"/>
<text x="379.1" y="303.3" class="lg" textLength="38.2" lengthAdjust="spacingAndGlyphs">Explicit_4km</text>
<line x1="349.8" y1="309.1" x2="379.5" y2="309.1" stroke="#ff0000" stroke-width="3.1"/>
<text x="379.1" y="311.3" class="lg" textLength="37.9" lengthAdjust="spacingAndGlyphs">Grell-Freitas</text>
<line x1="349.8" y1="317.1" x2="379.5" y2="317.1" stroke="#0000ff" stroke-width="3.1"/>
<text x="379.1" y="319.3" class="lg" textLength="54.1" lengthAdjust="spacingAndGlyphs">Betts-Miller-Janjic</text>
<line x1="349.8" y1="325.1" x2="379.5" y2="325.1" stroke="#000000" stroke-width="3.1"/>
<text x="379.1" y="327.3" class="lg" textLength="36.6" lengthAdjust="spacingAndGlyphs">Kain-Fritsch</text>
<text x="402.4" y="535.8" class="cap">(<tspan font-weight="bold">d</tspan>)</text>
</svg>
</body></html>
